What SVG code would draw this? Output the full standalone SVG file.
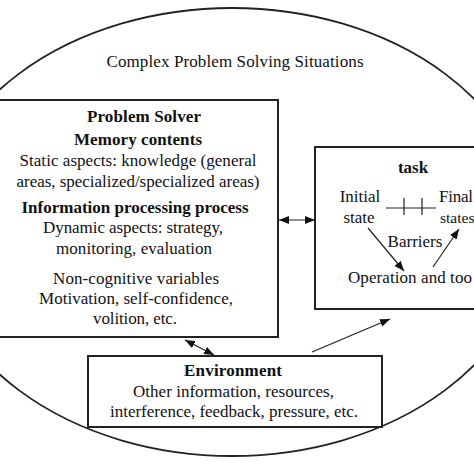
<svg xmlns="http://www.w3.org/2000/svg" width="474" height="474" viewBox="0 0 474 474">
<style>
.box{fill:#fff;stroke:#222;stroke-width:2}
.t{font-family:"Liberation Serif","Times New Roman",serif;font-size:17px;fill:#111;text-anchor:middle}
.s{text-anchor:start}
.b{font-weight:bold}
.c{stroke:#222;stroke-width:1.2;fill:none}
</style>
<defs>
<marker id="ah" markerUnits="userSpaceOnUse" markerWidth="10" markerHeight="8" refX="10" refY="4" orient="auto-start-reverse">
<path d="M0,0 L10,4 L0,8 z" fill="#111"/>
</marker>
</defs>
<rect width="474" height="474" fill="#fff"/>
<g id="situation">
<ellipse cx="232" cy="232" rx="301" ry="224" fill="none" stroke="#222" stroke-width="1.8"/>
<text class="t" x="235" y="67" textLength="257">Complex Problem Solving Situations</text>
</g>
<g id="problem-solver">
<rect class="box" x="-5" y="100" width="283" height="237"/>
<text class="t b" x="144" y="122" textLength="114">Problem Solver</text>
<text class="t b" x="138" y="145" textLength="128">Memory contents</text>
<text class="t" x="138" y="166" textLength="237">Static aspects: knowledge (general</text>
<text class="t" x="138" y="187" textLength="243">areas, specialized/specialized areas)</text>
<text class="t b" x="135" y="213" textLength="227">Information processing process</text>
<text class="t" x="133" y="233" textLength="180">Dynamic aspects: strategy,</text>
<text class="t" x="134" y="254" textLength="156">monitoring, evaluation</text>
<text class="t" x="136" y="284" textLength="166">Non-cognitive variables</text>
<text class="t" x="136" y="304" textLength="194">Motivation, self-confidence,</text>
<text class="t" x="135" y="324" textLength="84">volition, etc.</text>
</g>
<g id="task">
<rect class="box" x="315" y="147" width="170" height="162"/>
<text class="t b" x="413" y="173">task</text>
<text class="t" x="360" y="202">Initial</text>
<text class="t" x="359" y="223">state</text>
<text class="t s" x="439" y="202" textLength="34">Final</text>
<text class="t s" x="440" y="223" style="font-size:15.5px">states</text>
<path class="c" d="M386,208 H436 M404,198 V215 M422,198 V215"/>
<text class="t" x="415" y="247">Barriers</text>
<text class="t s" x="348" y="283" textLength="124">Operation and too</text>
<line class="c" x1="368" y1="228" x2="404" y2="271" marker-end="url(#ah)"/>
<line class="c" x1="433" y1="267" x2="459" y2="229" marker-end="url(#ah)"/>
</g>
<g id="environment">
<rect class="box" x="88" y="356" width="294" height="71"/>
<text class="t b" x="233" y="376" textLength="98">Environment</text>
<text class="t" x="233.5" y="397" textLength="201">Other information, resources,</text>
<text class="t" x="234" y="417" textLength="248">interference, feedback, pressure, etc.</text>
</g>
<g id="connectors">
<line class="c" x1="279" y1="220" x2="315" y2="220" marker-start="url(#ah)" marker-end="url(#ah)"/>
<line class="c" x1="185" y1="340" x2="214" y2="355" marker-start="url(#ah)" marker-end="url(#ah)"/>
<line class="c" x1="312" y1="352" x2="390" y2="319" marker-end="url(#ah)"/>
</g>
</svg>
